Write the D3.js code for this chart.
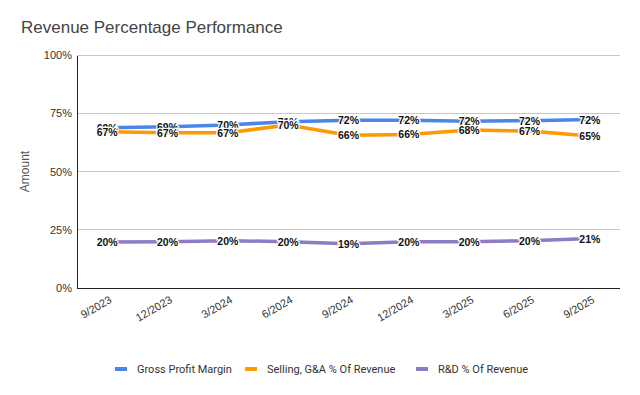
<!DOCTYPE html>
<html><head><meta charset="utf-8">
<script src="https://cdn.jsdelivr.net/npm/d3@7"></script>
<style>body{margin:0;background:#fff}svg{display:block;font-family:"Liberation Sans",Arial,sans-serif}</style>
</head><body><svg id="c" width="640" height="395"></svg>
<script>
const categories = ["9/2023","12/2023","3/2024","6/2024","9/2024","12/2024","3/2025","6/2025","9/2025"];
const grossProfit = [68.8,69.2,70.0,71.4,72.0,72.0,71.6,71.8,72.3];
const sgaPct = [67.1,66.6,66.6,70.0,65.6,65.9,67.8,67.4,65.2];
const rdPct = [19.7,19.8,20.3,19.9,19.0,19.9,19.9,20.3,21.2];
const yTicks = [0,25,50,75,100];
const seriesNames = ["Gross Profit Margin","Selling, G&A % Of Revenue","R&D % Of Revenue"];
const colors = ["#4a86e8","#ff9900","#8e7cc3"];
const series = [grossProfit, sgaPct, rdPct];

const svg = d3.select("#c");
const m = {l:77, r:20, t:55, b:107};
const W = 640, H = 395;
const x = d3.scalePoint().domain(categories).range([m.l, W - m.r]).padding(0.5);
const y = d3.scaleLinear().domain([0,100]).range([H - m.b, m.t]);

svg.append("text").attr("x",21).attr("y",33).attr("font-size",17).attr("fill","#444").text("Revenue Percentage Performance");

// grid
svg.append("g").selectAll("line").data(yTicks.filter(d=>d>0)).join("line")
  .attr("x1",m.l).attr("x2",W-m.r).attr("y1",d=>y(d)).attr("y2",d=>y(d))
  .attr("stroke","#c8c8c8").attr("stroke-width",1).attr("shape-rendering","crispEdges");

const ya = svg.append("g").attr("transform",`translate(${m.l},0)`)
  .call(d3.axisLeft(y).tickValues(yTicks).tickFormat(d=>d+"%").tickSize(0).tickPadding(5));
ya.select(".domain").attr("stroke","#222").attr("shape-rendering","crispEdges");
ya.selectAll("text").attr("font-size",11).attr("fill","#333").attr("font-family","Liberation Sans, Arial, sans-serif");

const xa = svg.append("g").attr("transform",`translate(0,${y(0)})`)
  .call(d3.axisBottom(x).tickSize(0).tickPadding(0));
xa.select(".domain").attr("stroke","#222").attr("d",`M${m.l},0.5H${W-m.r}`).attr("shape-rendering","crispEdges");
xa.selectAll("text").attr("font-size",11).attr("fill","#333").attr("font-family","Liberation Sans, Arial, sans-serif")
  .attr("text-anchor","end").attr("dy",0).attr("transform","translate(5,14) rotate(-30)");

svg.append("text").attr("transform",`translate(29,${y(50)}) rotate(-90)`).attr("text-anchor","middle")
  .attr("font-size",12).attr("fill","#555").text("Amount");

const line = d3.line().x((d,i)=>x(categories[i])).y(d=>y(d));
series.forEach((s,k)=>{
  svg.append("path").datum(s).attr("d",line).attr("fill","none").attr("stroke",colors[k]).attr("stroke-width",3.5).attr("stroke-linejoin","round");
});
series.forEach((s,k)=>{
  const g = svg.append("g");
  g.selectAll("text").data(s).join("text")
   .attr("x",(d,i)=>x(categories[i])).attr("y",d=>y(d)+4)
   .attr("text-anchor","middle").attr("font-size",10.5).attr("font-weight","bold")
   .attr("fill","#111").attr("stroke","#fff").attr("stroke-width",2.5).attr("paint-order","stroke")
   .text(d=>Math.round(d)+"%");
});

// legend
const lx = [115,245,416];
seriesNames.forEach((n,k)=>{
  svg.append("rect").attr("x",lx[k]).attr("y",367).attr("width",12).attr("height",4).attr("fill",colors[k]);
  svg.append("text").attr("x",lx[k]+22).attr("y",373).attr("font-size",11).attr("fill","#333")
    .attr("font-family","Roboto, 'Liberation Sans', sans-serif").text(n);
});
</script></body></html>
